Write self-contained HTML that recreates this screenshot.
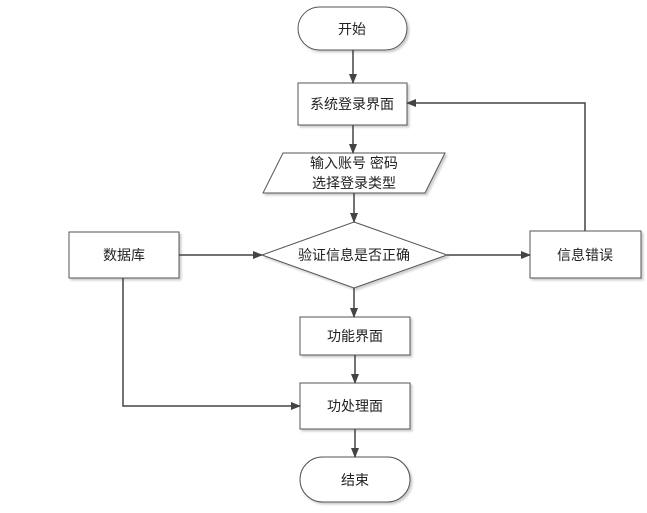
<!DOCTYPE html>
<html><head><meta charset="utf-8"><style>html,body{margin:0;padding:0;background:#fff}</style></head>
<body>
<svg width="647" height="508" viewBox="0 0 647 508" xmlns="http://www.w3.org/2000/svg" font-family="Liberation Sans, Noto Sans CJK SC, sans-serif" font-size="14" fill="#222">
<defs><marker id="a" markerWidth="10" markerHeight="10" refX="9" refY="5" orient="auto" markerUnits="userSpaceOnUse"><path d="M0,1 L10,5 L0,9 Z" fill="#444"/></marker>
<filter id="s" x="-10%" y="-10%" width="130%" height="130%"><feDropShadow dx="2" dy="2" stdDeviation="1" flood-color="#000" flood-opacity="0.2"/></filter></defs>
<g stroke="#555" stroke-width="1" fill="#fff" filter="url(#s)">
<rect x="298" y="7" width="109" height="43" rx="21.5"/>
<rect x="298" y="83" width="109" height="42"/>
<polygon points="283,153 445,153 425,193 263,193"/>
<polygon points="354,222 447,255 354,288 262,255"/>
<rect x="530" y="231" width="111" height="47"/>
<rect x="69" y="232" width="110" height="46"/>
<rect x="300" y="317" width="110" height="38"/>
<rect x="300" y="383" width="110" height="46"/>
<rect x="300" y="457" width="110" height="45" rx="22.5"/>
</g>
<g stroke="#444" stroke-width="1.5" fill="none" marker-end="url(#a)">
<line x1="353" y1="50" x2="353" y2="83"/>
<line x1="353" y1="125" x2="353" y2="153"/>
<line x1="354" y1="193" x2="354" y2="222"/>
<line x1="179" y1="255" x2="262" y2="255"/>
<line x1="447" y1="255" x2="530" y2="255"/>
<polyline points="585,231 585,103 407,103"/>
<line x1="354" y1="288" x2="354" y2="317"/>
<line x1="355" y1="355" x2="355" y2="383"/>
<polyline points="123,278 123,406 300,406"/>
<line x1="355" y1="429" x2="355" y2="457"/>
</g>
<g text-anchor="middle" dominant-baseline="central">
<text x="352" y="29">开始</text>
<text x="352" y="104">系统登录界面</text>
<text x="354" y="163">输入账号 密码</text>
<text x="354" y="183">选择登录类型</text>
<text x="354" y="255">验证信息是否正确</text>
<text x="585" y="255">信息错误</text>
<text x="124" y="255">数据库</text>
<text x="355" y="336">功能界面</text>
<text x="355" y="406">功处理面</text>
<text x="355" y="480">结束</text>
</g>
</svg>
</body></html>
